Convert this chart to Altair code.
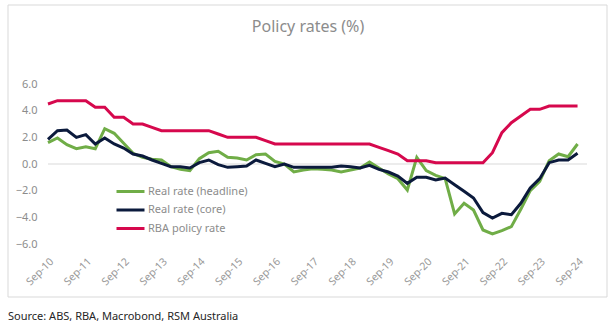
import altair as alt
import pandas as pd

quarters = [
    "Sep-10", "Dec-10",
    "Mar-11", "Jun-11", "Sep-11", "Dec-11",
    "Mar-12", "Jun-12", "Sep-12", "Dec-12",
    "Mar-13", "Jun-13", "Sep-13", "Dec-13",
    "Mar-14", "Jun-14", "Sep-14", "Dec-14",
    "Mar-15", "Jun-15", "Sep-15", "Dec-15",
    "Mar-16", "Jun-16", "Sep-16", "Dec-16",
    "Mar-17", "Jun-17", "Sep-17", "Dec-17",
    "Mar-18", "Jun-18", "Sep-18", "Dec-18",
    "Mar-19", "Jun-19", "Sep-19", "Dec-19",
    "Mar-20", "Jun-20", "Sep-20", "Dec-20",
    "Mar-21", "Jun-21", "Sep-21", "Dec-21",
    "Mar-22", "Jun-22", "Sep-22", "Dec-22",
    "Mar-23", "Jun-23", "Sep-23", "Dec-23",
    "Mar-24", "Jun-24", "Sep-24",
]
axis_end = ["Dec-24"]

headline = [
    1.6, 1.95,
    1.45, 1.15, 1.3, 1.15,
    2.65, 2.3, 1.55, 0.8,
    0.5, 0.35, 0.3, -0.2,
    -0.4, -0.5, 0.4, 0.85,
    0.95, 0.5, 0.45, 0.3,
    0.7, 0.75, 0.2, 0.0,
    -0.6, -0.45, -0.35, -0.4,
    -0.45, -0.6, -0.45, -0.3,
    0.15, -0.3, -0.75, -1.1,
    -1.95, 0.5, -0.5, -0.85,
    -1.1, -3.75, -2.95, -3.45,
    -4.95, -5.25, -5.0, -4.7,
    -3.4, -2.0, -1.3, 0.25,
    0.75, 0.55, 1.5,
]
core = [
    1.85, 2.5,
    2.55, 2.0, 2.2, 1.5,
    1.95, 1.5, 1.2, 0.75,
    0.6, 0.3, 0.05, -0.2,
    -0.2, -0.3, 0.1, 0.3,
    -0.05, -0.25, -0.2, -0.15,
    0.3, 0.05, -0.2, 0.0,
    -0.25, -0.25, -0.25, -0.25,
    -0.25, -0.15, -0.2, -0.3,
    -0.1, -0.4, -0.6, -0.9,
    -1.45, -1.0, -1.0, -1.2,
    -1.05, -1.55, -2.05, -2.55,
    -3.65, -4.05, -3.7, -3.8,
    -2.95, -1.8, -1.1, 0.1,
    0.3, 0.3, 0.8,
]
policy = [
    4.5, 4.75,
    4.75, 4.75, 4.75, 4.25,
    4.25, 3.5, 3.5, 3.0,
    3.0, 2.75, 2.5, 2.5,
    2.5, 2.5, 2.5, 2.5,
    2.25, 2.0, 2.0, 2.0,
    2.0, 1.75, 1.5, 1.5,
    1.5, 1.5, 1.5, 1.5,
    1.5, 1.5, 1.5, 1.5,
    1.5, 1.25, 1.0, 0.75,
    0.25, 0.25, 0.25, 0.1,
    0.1, 0.1, 0.1, 0.1,
    0.1, 0.85, 2.35, 3.1,
    3.6, 4.1, 4.1, 4.35,
    4.35, 4.35, 4.35,
]

series_names = ["Real rate (headline)", "Real rate (core)", "RBA policy rate"]
series_colors = ["#70AD47", "#0B1A3C", "#D6084D"]
x_tick_labels = [q for q in quarters if q.startswith("Sep")]
y_ticks = [-6, -4, -2, 0, 2, 4, 6]
title_text = "Policy rates (%)"
source_text = "Source: ABS, RBA, Macrobond, RSM Australia"

rows = []
for name, vals in zip(series_names, [headline, core, policy]):
    for q, v in zip(quarters, vals):
        rows.append({"quarter": q, "series": name, "value": v})
df = pd.DataFrame(rows)

FONT = "Noto Sans"
GREY = "#8C8C8C"
W, H = 539, 160

y_axis = alt.Axis(
    values=y_ticks, format=".1f", grid=False, domain=False, ticks=False,
    labelColor=GREY, labelFontSize=11, labelFont=FONT, labelPadding=11,
    labelOverlap=False, title=None,
)

lines = alt.Chart(df).mark_line(strokeWidth=3).encode(
    x=alt.X(
        "quarter:O",
        scale=alt.Scale(type="point", domain=quarters + axis_end, padding=0),
        axis=alt.Axis(
            values=x_tick_labels, labelAngle=-45, title=None, domain=False,
            ticks=False, labelColor="#999999", labelFontSize=10.5, labelFont=FONT,
            labelPadding=12, labelOverlap=False, grid=False,
        ),
    ),
    y=alt.Y(
        "value:Q",
        scale=alt.Scale(domain=[-6, 6], nice=False, zero=False),
        axis=y_axis,
    ),
    color=alt.Color(
        "series:N",
        sort=series_names,
        scale=alt.Scale(domain=series_names, range=series_colors),
        legend=alt.Legend(
            orient="none", legendX=67, legendY=99, title=None,
            symbolType="M-1,0H3", symbolSize=196, symbolStrokeWidth=3,
            labelOffset=16, labelFontSize=11, labelFont=FONT, labelColor=GREY,
            rowPadding=3.5, direction="vertical",
        ),
    ),
)

zero_line = alt.Chart(pd.DataFrame({"v": [0]})).mark_rule(
    color="#D9D9D9", strokeWidth=1
).encode(y=alt.YDatum(0, axis=y_axis))

frame = alt.Chart(pd.DataFrame({"v": [0]})).mark_rect(
    fillOpacity=0, stroke="#D9D9D9", strokeWidth=1
).encode(x=alt.value(-40), x2=alt.value(559), y=alt.value(-79), y2=alt.value(213))

title = alt.Chart(pd.DataFrame({"t": [title_text]})).mark_text(
    font=FONT, fontSize=16, color=GREY, align="center", baseline="alphabetic"
).encode(text="t:N", x=alt.value(260), y=alt.value(-52))

source = alt.Chart(pd.DataFrame({"t": [source_text]})).mark_text(
    font=FONT, fontSize=11, color="#262626", align="left", baseline="alphabetic"
).encode(text="t:N", x=alt.value(-40), y=alt.value(236))

chart = alt.layer(frame, zero_line, lines, title, source).properties(
    width=W, height=H,
    autosize=alt.AutoSizeParams(type="none"),
    padding={"left": 48, "top": 84, "right": 27, "bottom": 81},
    background="white",
).configure_view(strokeWidth=0).configure_axis(labelOverlap=False)

chart.save("out.html", embed_options={"renderer": "svg", "actions": False})
